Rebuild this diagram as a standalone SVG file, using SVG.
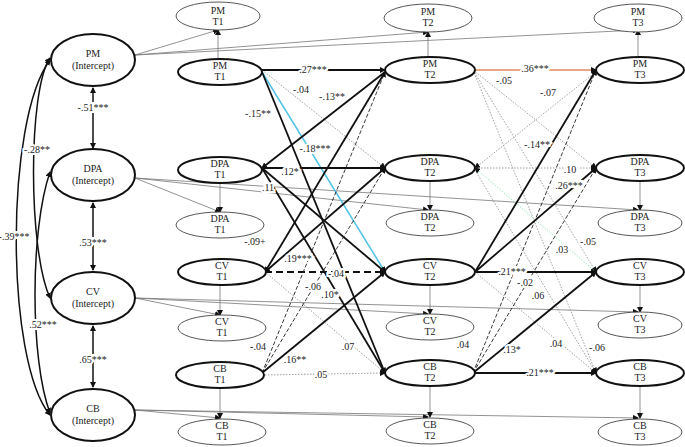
<svg xmlns="http://www.w3.org/2000/svg" width="685" height="447" viewBox="0 0 685 447">
<style>
text{font-family:"Liberation Serif",serif;font-size:10px;fill:#222;text-anchor:middle}
.lab{paint-order:stroke;stroke:#fff;stroke-width:4px}
.big{fill:#fff;stroke:#111;stroke-width:2}
.lat{fill:#fff;stroke:#111;stroke-width:2}
.obs{fill:#fff;stroke:#444;stroke-width:0.9}
.b{stroke:#111;stroke-width:1.8;fill:none;marker-end:url(#a)}
.t{stroke:#777;stroke-width:0.8;fill:none;marker-end:url(#a)}
.d{stroke:#888;stroke-width:0.8;stroke-dasharray:1.5 1.5;fill:none;marker-end:url(#a)}
.ds{stroke:#222;stroke-width:0.9;stroke-dasharray:4 2;fill:none;marker-end:url(#a)}
.bd{stroke:#111;stroke-width:2;stroke-dasharray:7 4;fill:none;marker-end:url(#a)}
.c{stroke:#111;stroke-width:1.5;fill:none;marker-end:url(#a);marker-start:url(#s)}
</style>
<defs>
<marker id="a" markerWidth="6" markerHeight="6" refX="5" refY="3" orient="auto" markerUnits="userSpaceOnUse"><path d="M0,0L6,3L0,6z" fill="#111"/></marker>
<marker id="s" markerWidth="6" markerHeight="6" refX="1" refY="3" orient="auto" markerUnits="userSpaceOnUse"><path d="M6,0L0,3L6,6z" fill="#111"/></marker>
</defs>
<rect width="685" height="447" fill="#fff"/>
<g id="connectors">
<!-- intercept correlations -->
<path class="c" d="M93,88 V148"/>
<path class="c" d="M93,203 V270"/>
<path class="c" d="M93,326 V387"/>
<path class="c" d="M50,58 C28,90 28,250 50,298"/>
<path class="c" d="M50,60 C5,120 5,360 50,415"/>
<path class="c" d="M50,172 C30,230 30,360 50,413"/>
<!-- intercept to observed -->
<path class="t" d="M135,55 L218,30"/><path class="t" d="M135,55 L428,32"/><path class="t" d="M135,55 L638,30"/>
<path class="t" d="M135,178 L220,212"/><path class="t" d="M135,178 L428,210"/><path class="t" d="M135,178 L638,210"/>
<path class="t" d="M135,298 L220,315"/><path class="t" d="M135,298 L428,314"/><path class="t" d="M135,298 L638,312"/>
<path class="t" d="M135,410 L220,418"/><path class="t" d="M135,410 L428,417"/><path class="t" d="M135,410 L638,418"/>
<!-- latent to observed -->
<path class="t" d="M218,59 V30"/><path class="t" d="M220,183 V212"/><path class="t" d="M220,285 V315"/><path class="t" d="M220,388 V418"/>
<path class="t" d="M428,57 V32"/><path class="t" d="M430,181 V210"/><path class="t" d="M430,285 V314"/><path class="t" d="M430,386 V417"/>
<path class="t" d="M638,57 V30"/><path class="t" d="M640,181 V210"/><path class="t" d="M640,285 V312"/><path class="t" d="M640,386 V418"/>
<!-- T1 -> T2 -->
<path class="b" d="M262,70 L385,70"/>
<path class="d" d="M262,70 L385,168"/>
<path stroke="#4fc3e8" stroke-width="1.5" fill="none" marker-end="url(#a)" d="M262,72 L385,272"/>
<path class="b" d="M262,72 L385,373"/>
<path class="b" d="M385,72 L262,168"/>
<path class="b" d="M262,168 L385,168"/>
<path class="b" d="M262,168 L385,272"/>
<path class="b" d="M262,168 L385,373"/>
<path class="b" d="M385,72 L265,272"/>
<path class="b" d="M385,168 L265,272"/>
<path class="bd" d="M265,272 L385,272"/>
<path class="d" d="M265,272 L385,373"/>
<path class="ds" d="M262,373 L385,72"/>
<path class="ds" d="M262,373 L385,168"/>
<path class="b" d="M262,373 L385,272"/>
<path class="d" d="M262,375 L385,373"/>
<!-- T2 -> T3 -->
<path stroke="#e08a5a" stroke-width="1.5" fill="none" marker-end="url(#a)" d="M473,70 L596,70"/>
<path class="d" d="M473,70 L596,168"/>
<path class="d" d="M473,70 L596,272"/>
<path class="d" d="M473,70 L596,373"/>
<path class="d" d="M596,72 L475,168"/>
<path class="d" d="M475,168 L596,168"/>
<path stroke="#7ee0a0" stroke-width="0.8" stroke-dasharray="1.5 1.5" fill="none" marker-end="url(#a)" d="M596,272 L475,168"/>
<path class="d" d="M475,170 L596,373"/>
<path class="b" d="M475,272 L596,70"/>
<path class="b" d="M475,272 L596,168"/>
<path class="b" d="M475,272 L596,272"/>
<path class="d" d="M475,272 L596,373"/>
<path class="ds" d="M473,373 L596,70"/>
<path class="ds" d="M473,373 L596,168"/>
<path class="b" d="M473,373 L596,272"/>
<path class="b" d="M473,373 L596,373"/>
<!-- labels -->
<text class="lab" x="93" y="111">-.51***</text>
<text class="lab" x="93" y="246">.53***</text>
<text class="lab" x="93" y="363">.65***</text>
<text class="lab" x="37" y="153">-.28**</text>
<text class="lab" x="14" y="240">-.39***</text>
<text class="lab" x="43" y="328">.52***</text>
<text class="lab" x="313" y="73">.27***</text>
<text class="lab" x="301" y="93">-.04</text>
<text class="lab" x="332" y="100">-.13**</text>
<text class="lab" x="258" y="117">-.15**</text>
<text class="lab" x="315" y="152">-.18***</text>
<text class="lab" x="290" y="175">.12*</text>
<text class="lab" x="268" y="191">.11</text>
<text class="lab" x="255" y="245">-.09+</text>
<text class="lab" x="298" y="262">.19***</text>
<text class="lab" x="336" y="277">-.04</text>
<text class="lab" x="313" y="290">-.06</text>
<text class="lab" x="330" y="298">.10*</text>
<text class="lab" x="258" y="350">-.04</text>
<text class="lab" x="348" y="350">.07</text>
<text class="lab" x="295" y="363">.16**</text>
<text class="lab" x="321" y="378">.05</text>
<text class="lab" x="535" y="72">.36***</text>
<text class="lab" x="504" y="84">-.05</text>
<text class="lab" x="548" y="96">-.07</text>
<text class="lab" x="537" y="148">-.14**</text>
<text class="lab" x="570" y="173">.10</text>
<text class="lab" x="569" y="189">.26***</text>
<text class="lab" x="588" y="245">-.05</text>
<text class="lab" x="562" y="253">.03</text>
<text class="lab" x="512" y="275">.21***</text>
<text class="lab" x="525" y="286">-.02</text>
<text class="lab" x="538" y="299">.06</text>
<text class="lab" x="463" y="348">.04</text>
<text class="lab" x="556" y="347">.04</text>
<text class="lab" x="597" y="351">-.06</text>
<text class="lab" x="512" y="353">.13*</text>
<text class="lab" x="540" y="376">.21***</text>
</g>
<g id="PM_I"><ellipse class="big" cx="93" cy="60" rx="42" ry="26"/><text x="93" y="57">PM</text><text x="93" y="69">(Intercept)</text></g>
<g id="DPA_I"><ellipse class="big" cx="93" cy="175" rx="42" ry="26"/><text x="93" y="172">DPA</text><text x="93" y="184">(Intercept)</text></g>
<g id="CV_I"><ellipse class="big" cx="93" cy="298" rx="42" ry="26"/><text x="93" y="295">CV</text><text x="93" y="307">(Intercept)</text></g>
<g id="CB_I"><ellipse class="big" cx="93" cy="415" rx="42" ry="26"/><text x="93" y="412">CB</text><text x="93" y="424">(Intercept)</text></g>
<g id="PM_T1o"><ellipse class="obs" cx="218" cy="16" rx="42" ry="14"/><text x="218" y="14">PM</text><text x="218" y="25">T1</text></g>
<g id="PM_T1"><ellipse class="lat" cx="220" cy="72" rx="42" ry="13"/><text x="220" y="69">PM</text><text x="220" y="80">T1</text></g>
<g id="DPA_T1"><ellipse class="lat" cx="220" cy="170" rx="42" ry="13"/><text x="220" y="167">DPA</text><text x="220" y="178">T1</text></g>
<g id="DPA_T1o"><ellipse class="obs" cx="220" cy="225" rx="44" ry="13"/><text x="220" y="222">DPA</text><text x="220" y="233">T1</text></g>
<g id="CV_T1"><ellipse class="lat" cx="222" cy="272" rx="44" ry="13"/><text x="222" y="269">CV</text><text x="222" y="280">T1</text></g>
<g id="CV_T1o"><ellipse class="obs" cx="222" cy="328" rx="44" ry="13"/><text x="222" y="325">CV</text><text x="222" y="336">T1</text></g>
<g id="CB_T1"><ellipse class="lat" cx="220" cy="375" rx="44" ry="13"/><text x="220" y="372">CB</text><text x="220" y="383">T1</text></g>
<g id="CB_T1o"><ellipse class="obs" cx="222" cy="432" rx="44" ry="13"/><text x="222" y="429">CB</text><text x="222" y="440">T1</text></g>
<g id="PM_T2o"><ellipse class="obs" cx="428" cy="18" rx="44" ry="14"/><text x="428" y="15">PM</text><text x="428" y="26">T2</text></g>
<g id="PM_T2"><ellipse class="lat" cx="430" cy="70" rx="45" ry="13"/><text x="430" y="67">PM</text><text x="430" y="78">T2</text></g>
<g id="DPA_T2"><ellipse class="lat" cx="430" cy="168" rx="45" ry="13"/><text x="430" y="165">DPA</text><text x="430" y="176">T2</text></g>
<g id="DPA_T2o"><ellipse class="obs" cx="430" cy="223" rx="44" ry="13"/><text x="430" y="220">DPA</text><text x="430" y="231">T2</text></g>
<g id="CV_T2"><ellipse class="lat" cx="430" cy="272" rx="45" ry="13"/><text x="430" y="269">CV</text><text x="430" y="280">T2</text></g>
<g id="CV_T2o"><ellipse class="obs" cx="430" cy="327" rx="44" ry="13"/><text x="430" y="324">CV</text><text x="430" y="335">T2</text></g>
<g id="CB_T2"><ellipse class="lat" cx="430" cy="373" rx="45" ry="13"/><text x="430" y="370">CB</text><text x="430" y="381">T2</text></g>
<g id="CB_T2o"><ellipse class="obs" cx="430" cy="431" rx="44" ry="13"/><text x="430" y="428">CB</text><text x="430" y="439">T2</text></g>
<g id="PM_T3o"><ellipse class="obs" cx="638" cy="18" rx="44" ry="14"/><text x="638" y="15">PM</text><text x="638" y="26">T3</text></g>
<g id="PM_T3"><ellipse class="lat" cx="640" cy="70" rx="44" ry="13"/><text x="640" y="67">PM</text><text x="640" y="78">T3</text></g>
<g id="DPA_T3"><ellipse class="lat" cx="640" cy="168" rx="44" ry="13"/><text x="640" y="165">DPA</text><text x="640" y="176">T3</text></g>
<g id="DPA_T3o"><ellipse class="obs" cx="640" cy="223" rx="42" ry="13"/><text x="640" y="220">DPA</text><text x="640" y="231">T3</text></g>
<g id="CV_T3"><ellipse class="lat" cx="640" cy="272" rx="44" ry="13"/><text x="640" y="269">CV</text><text x="640" y="280">T3</text></g>
<g id="CV_T3o"><ellipse class="obs" cx="640" cy="325" rx="42" ry="13"/><text x="640" y="322">CV</text><text x="640" y="333">T3</text></g>
<g id="CB_T3"><ellipse class="lat" cx="640" cy="373" rx="44" ry="13"/><text x="640" y="370">CB</text><text x="640" y="381">T3</text></g>
<g id="CB_T3o"><ellipse class="obs" cx="640" cy="432" rx="42" ry="13"/><text x="640" y="429">CB</text><text x="640" y="440">T3</text></g>
</svg>
